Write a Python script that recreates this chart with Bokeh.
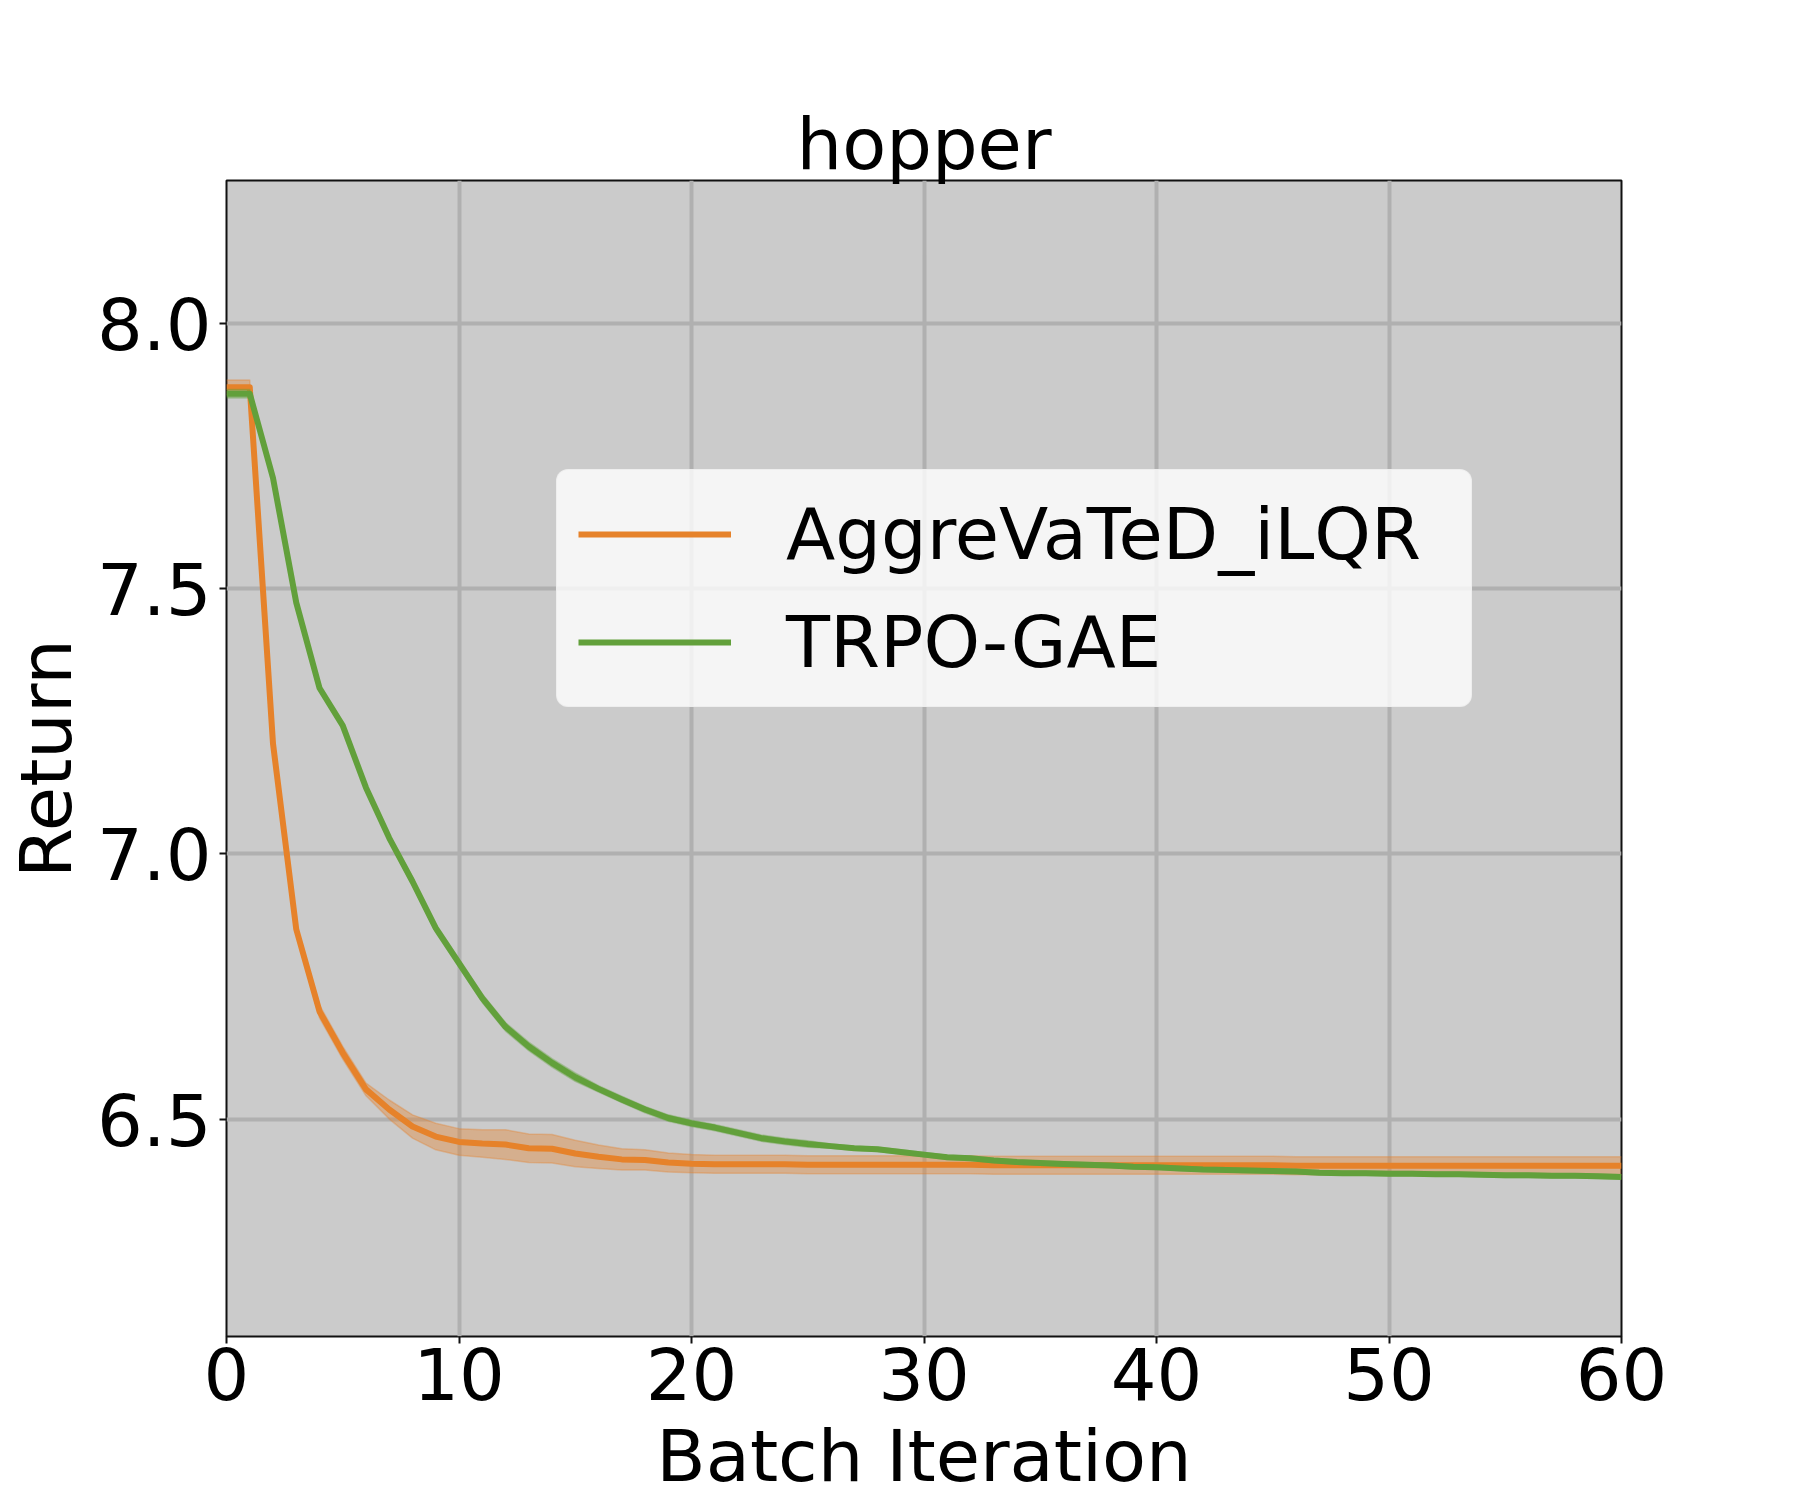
from bokeh.plotting import figure
from bokeh.models import Range1d, FixedTicker, PrintfTickFormatter, Legend, LegendItem, ColumnDataSource
from bokeh.embed import file_html
from bokeh.resources import INLINE

# ---------------- data ----------------
iterations = list(range(61))

aggrevated_mean = [
    7.880, 7.880, 7.208, 6.858, 6.703, 6.625, 6.556, 6.518, 6.486, 6.467,
    6.457, 6.454, 6.452, 6.445, 6.444, 6.435, 6.429, 6.424, 6.423, 6.418,
    6.416, 6.415, 6.415, 6.415, 6.415, 6.414, 6.414, 6.414, 6.414, 6.414,
    6.414, 6.414, 6.414, 6.413, 6.413, 6.413, 6.413, 6.413, 6.413, 6.413,
    6.413, 6.413, 6.413, 6.413, 6.413, 6.413, 6.412, 6.412, 6.412, 6.412,
    6.412, 6.412, 6.412, 6.412, 6.412, 6.412, 6.412, 6.412, 6.412, 6.412,
    6.412,
]
aggrevated_err = [
    0.014, 0.014, 0.010, 0.008, 0.012, 0.012, 0.012, 0.018, 0.022, 0.025,
    0.025, 0.026, 0.028, 0.027, 0.027, 0.025, 0.022, 0.020, 0.019, 0.018,
    0.017, 0.017, 0.017, 0.017, 0.017, 0.017, 0.017, 0.017, 0.017, 0.017,
    0.017, 0.017, 0.017, 0.017, 0.017, 0.017, 0.017, 0.017, 0.017, 0.017,
    0.017, 0.017, 0.017, 0.017, 0.017, 0.017, 0.017, 0.017, 0.017, 0.017,
    0.017, 0.017, 0.017, 0.017, 0.017, 0.017, 0.017, 0.017, 0.017, 0.017,
    0.017,
]
trpo_mean = [
    7.868, 7.868, 7.709, 7.474, 7.313, 7.242, 7.125, 7.030, 6.948, 6.860,
    6.794, 6.728, 6.674, 6.637, 6.606, 6.579, 6.557, 6.537, 6.518, 6.502,
    6.492, 6.484, 6.474, 6.464, 6.458, 6.453, 6.449, 6.445, 6.443, 6.438,
    6.433, 6.428, 6.426, 6.422, 6.419, 6.417, 6.4155, 6.414, 6.4125, 6.410,
    6.409, 6.407, 6.405, 6.404, 6.403, 6.402, 6.401, 6.399, 6.398, 6.398,
    6.397, 6.397, 6.396, 6.396, 6.395, 6.394, 6.394, 6.393, 6.393, 6.392,
    6.391,
]
trpo_err = [
    0.008, 0.008, 0.005, 0.005, 0.005, 0.005, 0.005, 0.006, 0.008, 0.008,
    0.008, 0.008, 0.008, 0.008, 0.008, 0.008, 0.006, 0.006, 0.006, 0.006,
    0.006, 0.006, 0.006, 0.006, 0.006, 0.006, 0.004, 0.004, 0.004, 0.004,
    0.004, 0.004, 0.004, 0.004, 0.004, 0.004, 0.004, 0.004, 0.004, 0.004,
    0.004, 0.004, 0.004, 0.004, 0.004, 0.004, 0.004, 0.004, 0.004, 0.004,
    0.004, 0.004, 0.004, 0.004, 0.004, 0.004, 0.004, 0.004, 0.004, 0.004,
    0.004,
]

series_names = ["AggreVaTeD_iLQR", "TRPO-GAE"]
x_ticks = [0, 10, 20, 30, 40, 50, 60]
y_ticks = [6.5, 7.0, 7.5, 8.0]

# ---------------- style ----------------
FONT = "DejaVu Sans"
ORANGE = "#e6822a"
GREEN = "#62a03b"

p = figure(
    output_backend="svg", toolbar_location=None,
    frame_width=1395, frame_height=1156,
    min_border_left=216, min_border_top=180, min_border_right=120, min_border_bottom=0,
    x_range=Range1d(0, 60), y_range=Range1d(6.09, 8.27),
    title="hopper",
)
p.background_fill_color = "#cbcbcb"
p.border_fill_color = "white"
p.outline_line_color = "#111111"
p.outline_line_width = 2

p.title.text_font = FONT
p.title.text_font_size = "72px"
p.title.text_font_style = "normal"
p.title.text_color = "black"
p.title.align = "center"
p.title.standoff = -11

for ax in (p.xaxis[0], p.yaxis[0]):
    ax.axis_line_color = None
    ax.major_tick_out = 7
    ax.major_tick_in = 0
    ax.minor_tick_line_color = None
    ax.major_tick_line_color = "#111111"
    ax.major_tick_line_width = 2
    ax.major_label_text_font = FONT
    ax.major_label_text_font_size = "72px"
    ax.major_label_text_color = "black"
    ax.axis_label_text_font = FONT
    ax.axis_label_text_font_size = "72px"
    ax.axis_label_text_font_style = "normal"
    ax.axis_label_text_color = "black"

p.xaxis[0].ticker = FixedTicker(ticks=x_ticks)
p.yaxis[0].ticker = FixedTicker(ticks=y_ticks)
p.yaxis[0].formatter = PrintfTickFormatter(format="%.1f")
p.xaxis[0].axis_label = "Batch Iteration"
p.yaxis[0].axis_label = "Return"
p.xaxis[0].major_label_standoff = 3
p.xaxis[0].axis_label_standoff = 11
p.yaxis[0].major_label_standoff = 8
p.yaxis[0].axis_label_standoff = 6

for g in (p.xgrid[0], p.ygrid[0]):
    g.grid_line_color = "#b0b0b0"
    g.grid_line_width = 4

# ---------------- glyphs ----------------
def add_series(mean, err, color):
    lower = [m - e for m, e in zip(mean, err)]
    upper = [m + e for m, e in zip(mean, err)]
    src = ColumnDataSource(dict(x=iterations, y=mean, lo=lower, hi=upper))
    p.varea(x="x", y1="lo", y2="hi", source=src, fill_color=color, fill_alpha=0.38)
    p.line(x="x", y="lo", source=src, line_color=color, line_alpha=0.35, line_width=1.5)
    p.line(x="x", y="hi", source=src, line_color=color, line_alpha=0.35, line_width=1.5)
    return p.line(x="x", y="y", source=src, line_color=color, line_width=6, line_join="round")

r1 = add_series(aggrevated_mean, aggrevated_err, ORANGE)
r2 = add_series(trpo_mean, trpo_err, GREEN)

legend = Legend(
    items=[LegendItem(label=series_names[0], renderers=[r1]),
           LegendItem(label=series_names[1], renderers=[r2])],
    location=(330, 629),
    label_text_font=FONT, label_text_font_size="72px", label_text_color="black",
    glyph_width=153, glyph_height=86, label_height=86, label_width=664,
    label_standoff=55, spacing=22, padding=21, margin=0,
    background_fill_color="white", background_fill_alpha=0.8,
    border_line_color="#ececec", border_line_alpha=0.8, border_line_width=1,
    border_radius=12,
)
p.add_layout(legend, "center")

open("out.html", "w").write(file_html(p, INLINE))
